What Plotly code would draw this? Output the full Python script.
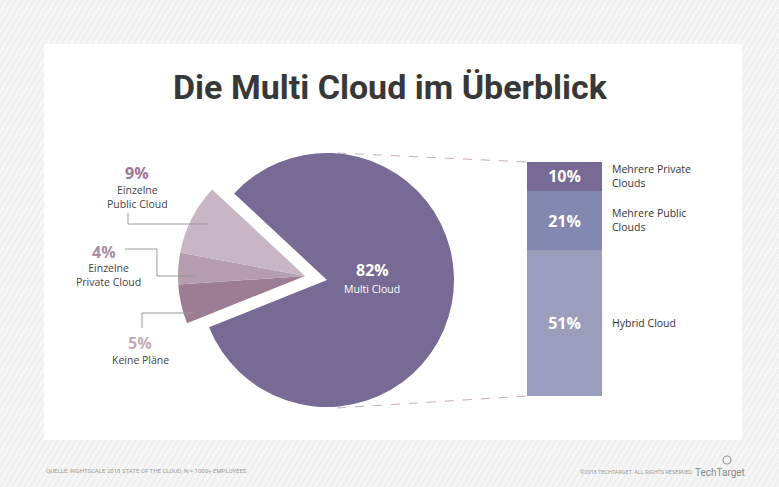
import plotly.graph_objects as go

# ---- data ----
pie_labels = ["Multi Cloud", "Keine Pläne", "Einzelne Private Cloud", "Einzelne Public Cloud"]
pie_values = [82, 5, 4, 9]
pie_colors = ["#776a94", "#9d7d93", "#b49dae", "#c8b6c4"]

bar_labels = ["Hybrid Cloud", "Mehrere Public<br>Clouds", "Mehrere Private<br>Clouds"]
bar_values = [51, 21, 10]
bar_colors = ["#9b9dbd", "#8288b0", "#776a94"]

W, H = 779, 487
def X(px): return px / W
def Y(py): return 1 - py / H

R = 127
cA = (327, 280)   # main slice centre
cB = (305, 276)   # exploded group centre

def dom(c):
    return dict(x=[X(c[0] - R), X(c[0] + R)], y=[Y(c[1] + R), Y(c[1] - R)])

fig = go.Figure()

# main slice (rest transparent)
fig.add_trace(go.Pie(
    labels=[pie_labels[0], "Andere"], values=[pie_values[0], sum(pie_values[1:])],
    sort=False, direction="clockwise", rotation=-47, textinfo="none", hoverinfo="label+value",
    marker=dict(colors=[pie_colors[0], "rgba(0,0,0,0)"], line=dict(width=0)),
    domain=dom(cA), showlegend=False,
))
# exploded group of small slices (main transparent)
fig.add_trace(go.Pie(
    labels=pie_labels, values=pie_values, sort=False, direction="clockwise",
    rotation=-47, textinfo="none", hoverinfo="label+value",
    marker=dict(colors=["rgba(0,0,0,0)"] + pie_colors[1:], line=dict(width=0)),
    domain=dom(cB), showlegend=False,
))

cum = 0
for lab, v, c in zip(bar_labels, bar_values, bar_colors):
    fig.add_trace(go.Bar(
        x=[0], y=[v], marker=dict(color=c, line=dict(width=0)), width=1,
        text=[f"{v}%"], textposition="inside", insidetextanchor="middle",
        textfont=dict(color="white", size=16, family="Open Sans", weight="bold"),
        xaxis="x2", yaxis="y2", showlegend=False, name=lab.replace("<br>", " "),
    ))
    fig.add_annotation(x=1, xref="x2 domain", y=cum + v / 2, yref="y2",
                       text=lab, showarrow=False, xanchor="left", xshift=8, align="left",
                       font=dict(size=10.5, color="#333333", family="Open Sans"))
    cum += v

# stripes background path
segs = []
step = 6
for i in range(-300, W + 50, step):
    x0, y0 = i, H
    x1, y1 = i + H * 0.6, 0
    segs.append(f"M{X(x0):.4f},{Y(y0):.4f} L{X(x1):.4f},{Y(y1):.4f}")
shapes = [
    dict(type="path", path=" ".join(segs), xref="paper", yref="paper",
         line=dict(color="#e9e9e9", width=1), layer="below"),
    dict(type="rect", xref="paper", yref="paper", x0=X(44), x1=X(742), y0=Y(440), y1=Y(44),
         fillcolor="white", line=dict(width=0), layer="below"),
    # dashed connectors
    dict(type="line", xref="paper", yref="paper", x0=X(337), y0=Y(153), x1=X(527), y1=Y(162),
         line=dict(color="#c9a9bb", width=1, dash="dash"), layer="below"),
    dict(type="line", xref="paper", yref="paper", x0=X(337), y0=Y(408), x1=X(527), y1=Y(396),
         line=dict(color="#c9a9bb", width=1, dash="dash"), layer="below"),
]
# leader lines
lead = "#9a9a9a"
for pts in [[(128, 213), (128, 224), (208, 224)],
            [(125, 249), (157, 249), (157, 276), (195, 276)],
            [(142, 328), (142, 313), (195, 313)]]:
    p = "M" + " L".join(f"{X(a):.4f},{Y(b):.4f}" for a, b in pts)
    shapes.append(dict(type="path", path=p, xref="paper", yref="paper",
                       line=dict(color=lead, width=1)))
# logo eye
shapes.append(dict(type="circle", xref="paper", yref="paper", x0=X(723), x1=X(731),
                   y0=Y(464), y1=Y(456), line=dict(color="#9a9a9a", width=1.2)))

fig.update_layout(
    width=W, height=H, margin=dict(l=0, r=0, t=0, b=0),
    paper_bgcolor="#f5f5f5", plot_bgcolor="rgba(0,0,0,0)",
    barmode="stack", shapes=shapes,
    xaxis2=dict(domain=[X(527), X(602)], range=[-0.5, 0.5], visible=False, anchor="y2"),
    yaxis2=dict(domain=[Y(396), Y(162)], range=[0, sum(bar_values)], visible=False, anchor="x2"),
    xaxis=dict(visible=False), yaxis=dict(visible=False),
)

def ann(x, y, text, size, color, bold=False, family="Open Sans", xanchor="center"):
    fig.add_annotation(x=X(x), y=Y(y), xref="paper", yref="paper", text=text,
                       showarrow=False, xanchor=xanchor, yanchor="middle",
                       font=dict(size=size, color=color, family=family,
                                 weight="bold" if bold else "normal"))

ann(391, 87, "Die Multi Cloud im Überblick", 34, "#383838", True, "Roboto")
ann(372, 270, f"{pie_values[0]}%", 16, "white", True)
ann(372, 289, pie_labels[0], 10.5, "white")
ann(137, 173, f"{pie_values[3]}%", 16, "#9e7590", True)
ann(137, 197, "Einzelne<br>Public Cloud", 10.5, "#444444")
ann(104, 252, f"{pie_values[2]}%", 16, "#a98ea1", True)
ann(108, 275, "Einzelne<br>Private Cloud", 10.5, "#444444")
ann(140, 343, f"{pie_values[1]}%", 16, "#c4a9ba", True)
ann(140, 360, pie_labels[1], 10.5, "#444444")
ann(44, 470, "QUELLE: RIGHTSCALE 2018 STATE OF THE CLOUD; N = 1000+ EMPLOYEES", 6, "#9a9a9a",
    family="Roboto", xanchor="left")
ann(694, 472, "©2018 TECHTARGET. ALL RIGHTS RESERVED", 5.5, "#9a9a9a",
    family="Roboto", xanchor="right")
ann(720, 472, "TechTarget", 10, "#8a8a8a", family="Roboto")

fig.write_html("out.html")
